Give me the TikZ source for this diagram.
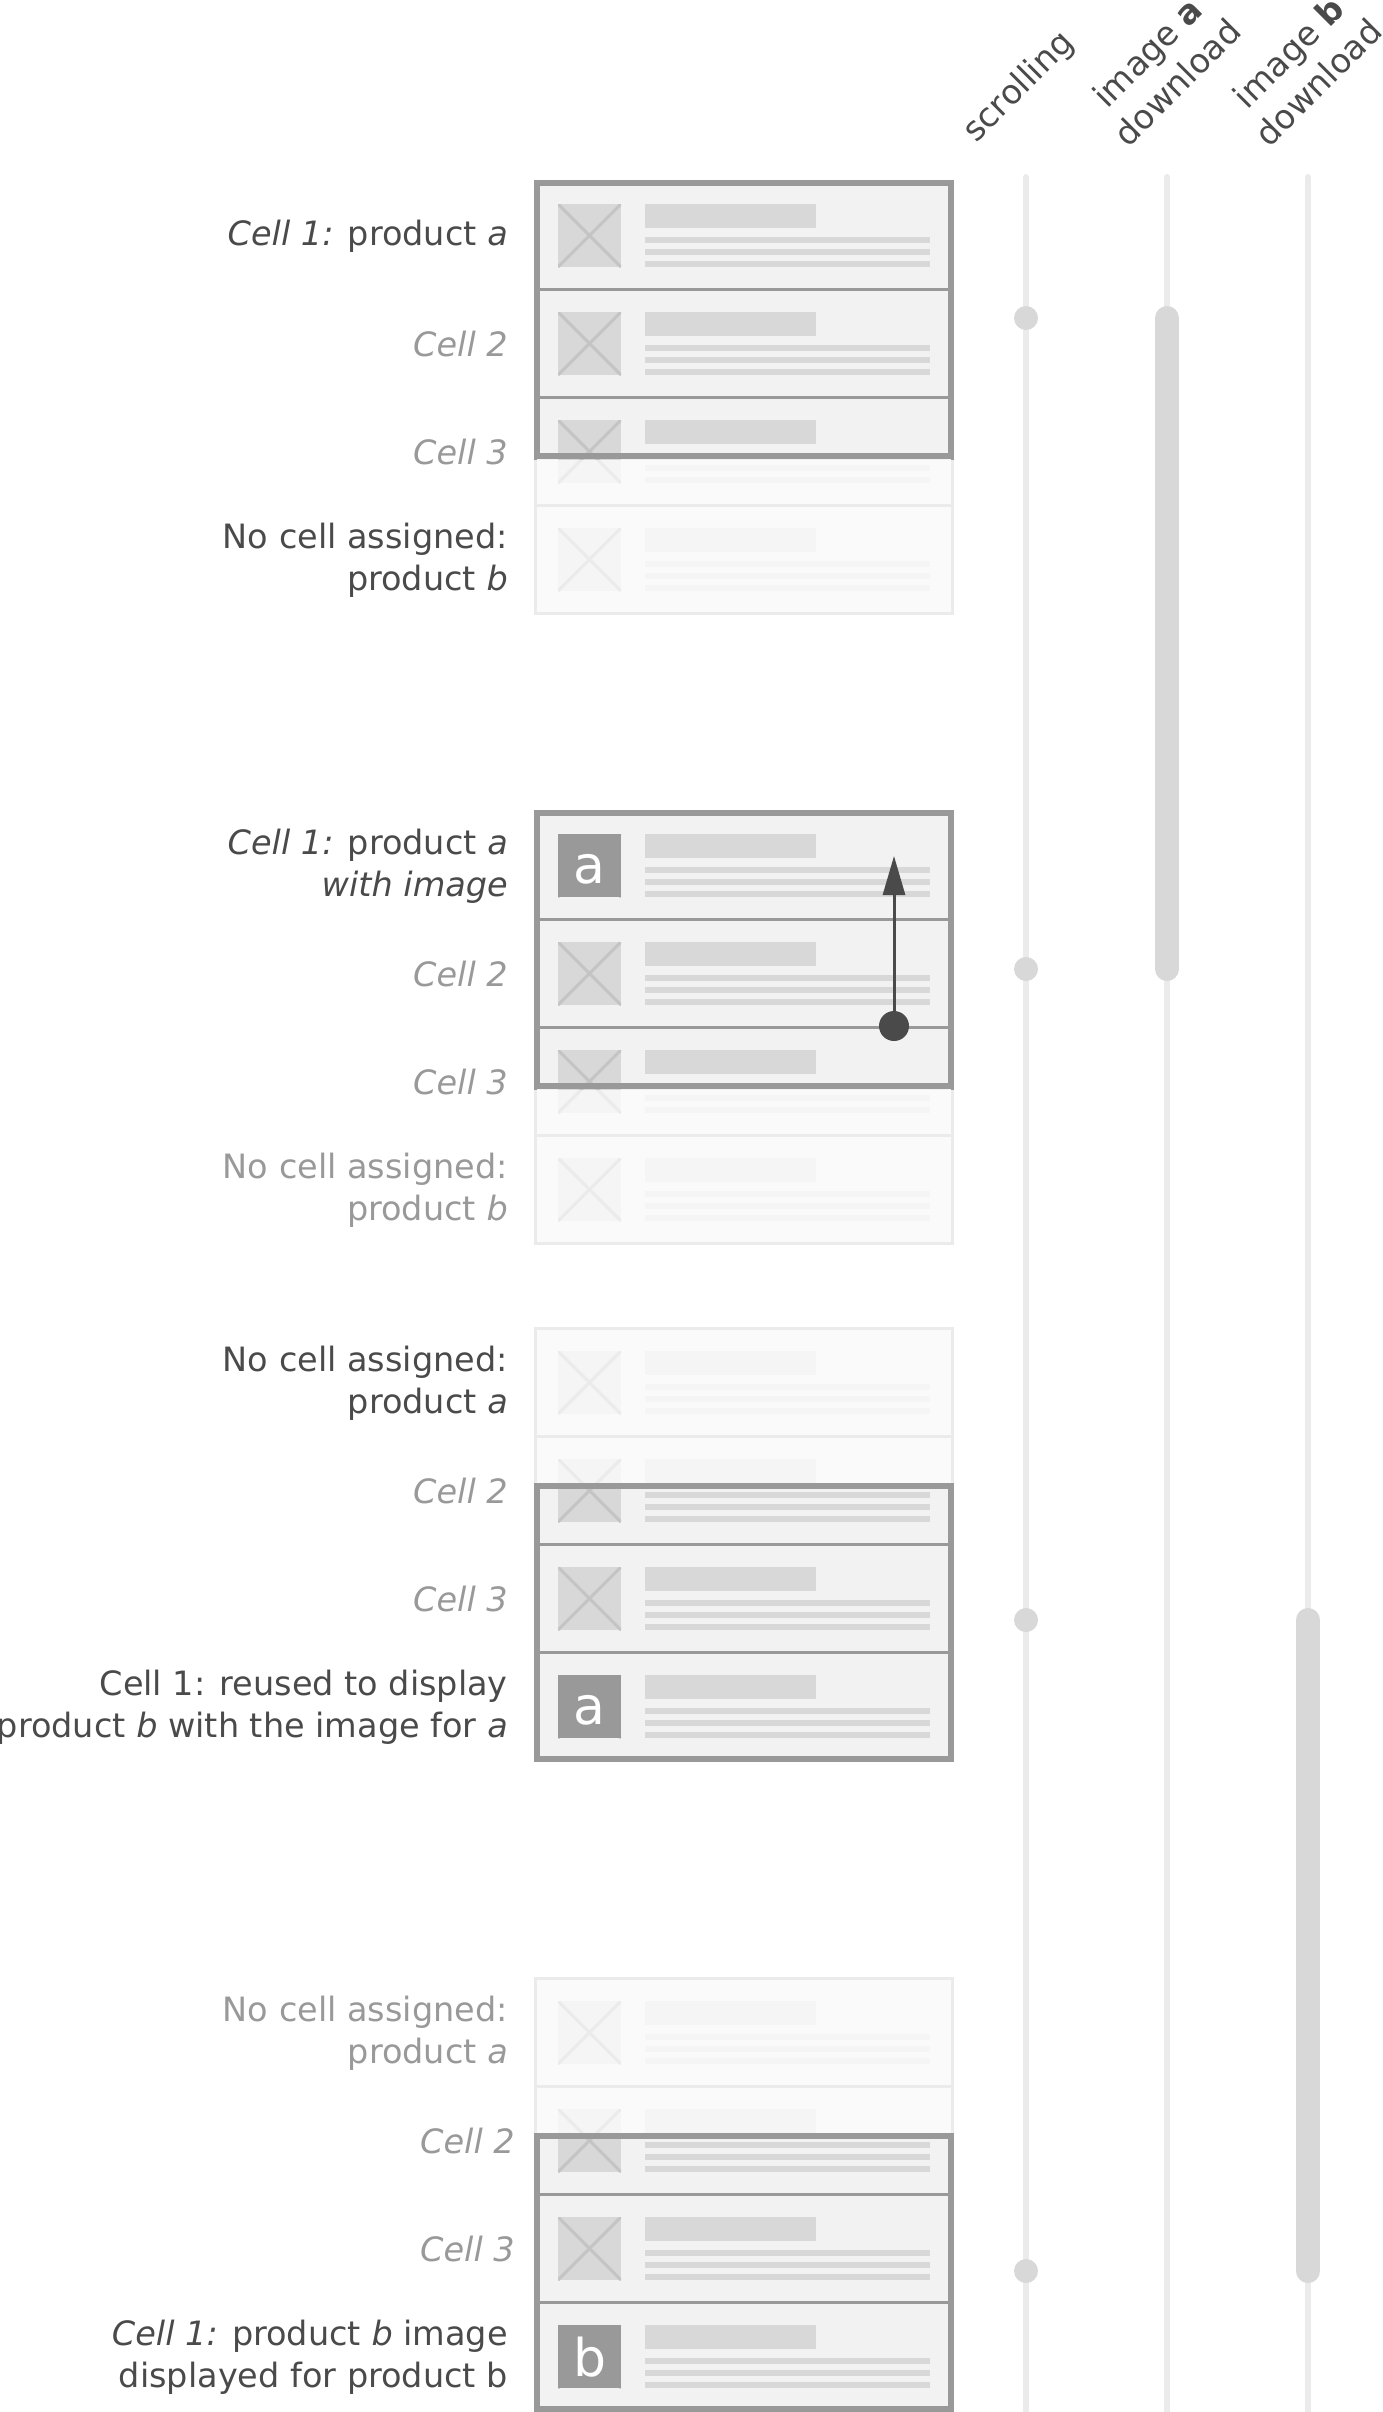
\documentclass[tikz,border=0pt]{standalone}
\usepackage{fontspec}
\setmainfont{DejaVu Sans}
\usetikzlibrary{arrows.meta}

\definecolor{ink}{HTML}{4A4A4A}
\definecolor{mute}{HTML}{999999}
\definecolor{framec}{HTML}{999999}
\definecolor{rail}{HTML}{EBEBEB}
\definecolor{markc}{HTML}{D8D8D8}
% full-strength cell colours
\definecolor{fullfill}{HTML}{F2F2F2}
\definecolor{fullline}{HTML}{999999}
\definecolor{fullimg}{HTML}{D8D8D8}
\definecolor{fullx}{HTML}{C4C4C4}
\definecolor{fullbar}{HTML}{D8D8D8}
% faded cell colours
\definecolor{fadefill}{HTML}{FAFAFA}
\definecolor{fadeline}{HTML}{EBEBEB}
\definecolor{fadeimg}{HTML}{F5F5F5}
\definecolor{fadex}{HTML}{EBEBEB}
\definecolor{fadebar}{HTML}{F5F5F5}

\newcommand\usefull{\colorlet{cfill}{fullfill}\colorlet{cline}{fullline}\colorlet{cimg}{fullimg}\colorlet{cx}{fullx}\colorlet{cbar}{fullbar}}
\newcommand\usefaded{\colorlet{cfill}{fadefill}\colorlet{cline}{fadeline}\colorlet{cimg}{fadeimg}\colorlet{cx}{fadex}\colorlet{cbar}{fadebar}}

% one cell's content, #1 = top of the cell
\newcommand\cellcontent[1]{%
  \begin{scope}
    \clip (558,#1+24) rectangle (621,#1+87);
    \fill[cimg] (558,#1+24) rectangle (621,#1+87);
    \draw[cx,line width=3] (558,#1+24) -- (621,#1+87) (558,#1+87) -- (621,#1+24);
  \end{scope}
  \fill[cbar] (645,#1+24) rectangle (816,#1+48);
  \foreach \o in {57,69,81} {\fill[cbar] (645,#1+\o) rectangle (930,#1+\o+6);}
}
% a list of four cells, #1 = top of the list
\newcommand\celllist[1]{%
  \fill[cfill] (534,#1) rectangle (954,#1+435);
  \foreach \k in {0,...,4} {\draw[cline,line width=3] (534,#1+108*\k+1.5) -- (954,#1+108*\k+1.5);}
  \draw[cline,line width=3] (535.5,#1) -- (535.5,#1+435) (952.5,#1) -- (952.5,#1+435);
  \foreach \k in {0,...,3} {\cellcontent{#1+108*\k}}
}
% a group: #1 = list top, #2 = frame top
\newcommand\cellgroup[2]{%
  \begin{scope}\usefaded\celllist{#1}\end{scope}
  \begin{scope}
    \clip (534,#2) rectangle (954,#2+279);
    \usefull\celllist{#1}
  \end{scope}
  \draw[framec,line width=6] (537,#2+3) rectangle (951,#2+276);
}
% letter image over a cell, #1 = cell top, #2 = node name, #3 = letter, #4 = letter centre offset
\newcommand\letterimg[4]{%
  \fill[framec] (558,#1+24) rectangle (621,#1+87);
  \node[inner sep=0,text=white,font=\fontsize{52}{52}\selectfont] (#2) at (589.5,#1+#4) {#3};
}

\tikzset{
  lbl/.style={anchor=east,align=right,inner sep=0,yshift=-2pt,font=\fontsize{33.5}{42}\selectfont,text=ink},
  lblm/.style={lbl,text=mute},
  hdr/.style={anchor=base,inner sep=0,rotate=45,font=\fontsize{33.5}{42}\selectfont,text=ink},
  dotc/.style={circle,fill=markc,minimum size=24,inner sep=0},
}

\begin{document}
\begin{tikzpicture}[x=1pt,y=-1pt]
\useasboundingbox (0,0) rectangle (1383,2412);
\clip (0,0) rectangle (1383,2412);

% ---------- timelines ----------
\coordinate (st) at (1026,177); \coordinate (sb) at (1026,2412);
\coordinate (at) at (1167,177); \coordinate (ab) at (1167,2412);
\coordinate (bt) at (1308,177); \coordinate (bb) at (1308,2412);
\draw[rail,line width=6,line cap=round] (st) -- (sb);
\draw[rail,line width=6,line cap=round] (at) -- (ab);
\draw[rail,line width=6,line cap=round] (bt) -- (bb);

\coordinate (a1) at (1167,318); \coordinate (a2) at (1167,969);
\coordinate (b1) at (1308,1620); \coordinate (b2) at (1308,2271);
\draw[markc,line width=24,line cap=round] (a1) -- (a2);
\draw[markc,line width=24,line cap=round] (b1) -- (b2);

\node[dotc] (d1) at (1026,318) {};
\node[dotc] (d2) at (1026,969) {};
\node[dotc] (d3) at (1026,1620) {};
\node[dotc] (d4) at (1026,2271) {};

% ---------- headers ----------
\node[hdr] (hs) at (1026,94) {scrolling};
\node[hdr] (ha1) at (1156,61) {image \textbf{a}};
\node[hdr] (ha2) at (1186,91) {download};
\node[hdr] (hb1) at (1297,61) {image \textbf{b}};
\node[hdr] (hb2) at (1327,91) {download};

% ---------- group 1 ----------
\cellgroup{180}{180}
\node[lbl]  (g1c1) at (508,234) {\textit{Cell 1:} product \textit{a}};
\node[lblm] (g1c2) at (508,342) {\textit{Cell 2}};
\node[lblm] (g1c3) at (508,450) {\textit{Cell 3}};
\node[lbl]  (g1c4) at (508,558) {No cell assigned:\\product \textit{b}};

% ---------- group 2 ----------
\cellgroup{810}{810}
\letterimg{810}{g2img}{a}{59}
\node[lbl]  (g2c1) at (508,864) {\textit{Cell 1:} product \textit{a}\\\textit{with image}};
\node[lblm] (g2c2) at (508,972) {\textit{Cell 2}};
\node[lblm] (g2c3) at (508,1080) {\textit{Cell 3}};
\node[lblm] (g2c4) at (508,1188) {No cell assigned:\\product \textit{b}};
\node[circle,fill=ink,minimum size=30,inner sep=0] (dot) at (894,1026) {};
\coordinate (tip) at (894,856);
\draw[ink,line width=3,-{Triangle[length=39,width=22]}] (dot) -- (tip);

% ---------- group 3 ----------
\cellgroup{1327}{1483}
\letterimg{1651}{g3img}{a}{59}
\node[lbl]  (g3c1) at (508,1381) {No cell assigned:\\product \textit{a}};
\node[lblm] (g3c2) at (508,1489) {\textit{Cell 2}};
\node[lblm] (g3c3) at (508,1597) {\textit{Cell 3}};
\node[lbl]  (g3c4) at (508,1705) {Cell 1: reused to display\\product \textit{b} with the image for \textit{a}};

% ---------- group 4 ----------
\cellgroup{1977}{2133}
\letterimg{2301}{g4img}{b}{56}
\node[lblm] (g4c1) at (508,2031) {No cell assigned:\\product \textit{a}};
\node[lblm] (g4c2) at (515,2139) {\textit{Cell 2}};
\node[lblm] (g4c3) at (515,2247) {\textit{Cell 3}};
\node[lbl]  (g4c4) at (508,2355) {\textit{Cell 1:} product \textit{b} image\\displayed for product b};
\end{tikzpicture}
\end{document}
